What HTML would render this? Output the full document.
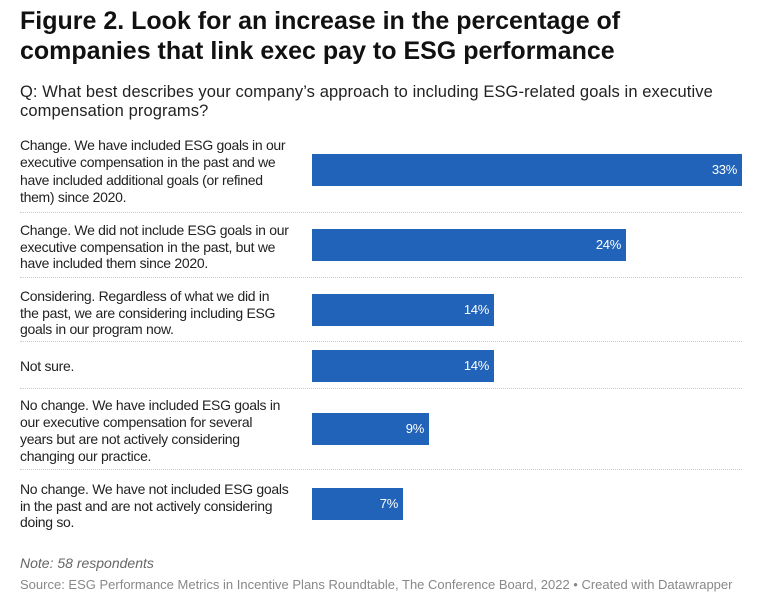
<!DOCTYPE html>
<html><head><meta charset="utf-8"><style>
body{margin:0;width:768px;height:610px;background:#fff;position:relative;overflow:hidden;font-family:"Liberation Sans",sans-serif;color:#222}
.a{position:absolute;white-space:nowrap}
.t{left:20px;font-weight:bold;font-size:25px;letter-spacing:0px;color:#111}
.s{left:20px;font-size:16.5px;letter-spacing:0.1px;color:#222}
.l{left:20px;font-size:14px;letter-spacing:-0.3px;line-height:18px;color:#222}
.bar{position:absolute;left:312px;height:32px;background:#2163b8}
.bar span{position:absolute;right:5px;top:8px;color:#fff;font-size:13px;letter-spacing:-0.3px}
.sep{position:absolute;left:20px;width:722px;border-top:1px dotted #ccc}
</style></head><body>
<div class="a t" style="top:7px">Figure 2. Look for an increase in the percentage of</div>
<div class="a t" style="top:37px">companies that link exec pay to ESG performance</div>
<div class="a s" style="top:83px">Q: What best describes your company’s approach to including ESG-related goals in executive</div>
<div class="a s" style="top:102px">compensation programs?</div>

<div class="a l" style="top:136px">Change. We have included ESG goals in our</div>
<div class="a l" style="top:153px">executive compensation in the past and we</div>
<div class="a l" style="top:171px">have included additional goals (or refined</div>
<div class="a l" style="top:188px">them) since 2020.</div>
<div class="bar" style="top:154px;width:430px"><span>33%</span></div>
<div class="sep" style="top:212px"></div>

<div class="a l" style="top:221px">Change. We did not include ESG goals in our</div>
<div class="a l" style="top:238px">executive compensation in the past, but we</div>
<div class="a l" style="top:254px">have included them since 2020.</div>
<div class="bar" style="top:229px;width:314px"><span>24%</span></div>
<div class="sep" style="top:277px"></div>

<div class="a l" style="top:287px">Considering. Regardless of what we did in</div>
<div class="a l" style="top:304px">the past, we are considering including ESG</div>
<div class="a l" style="top:320px">goals in our program now.</div>
<div class="bar" style="top:294px;width:182px"><span>14%</span></div>
<div class="sep" style="top:341px"></div>

<div class="a l" style="top:357px">Not sure.</div>
<div class="bar" style="top:350px;width:182px"><span>14%</span></div>
<div class="sep" style="top:388px"></div>

<div class="a l" style="top:396px">No change. We have included ESG goals in</div>
<div class="a l" style="top:413px">our executive compensation for several</div>
<div class="a l" style="top:430px">years but are not actively considering</div>
<div class="a l" style="top:447px">changing our practice.</div>
<div class="bar" style="top:413px;width:117px"><span>9%</span></div>
<div class="sep" style="top:469px"></div>

<div class="a l" style="top:480px">No change. We have not included ESG goals</div>
<div class="a l" style="top:497px">in the past and are not actively considering</div>
<div class="a l" style="top:513px">doing so.</div>
<div class="bar" style="top:488px;width:91px"><span>7%</span></div>

<div class="a" style="left:20px;top:555px;font-size:14px;font-style:italic;color:#666;letter-spacing:0px">Note: 58 respondents</div>
<div class="a" style="left:20px;top:577px;font-size:13px;color:#888;letter-spacing:0px">Source: ESG Performance Metrics in Incentive Plans Roundtable, The Conference Board, 2022 • Created with Datawrapper</div>
</body></html>
